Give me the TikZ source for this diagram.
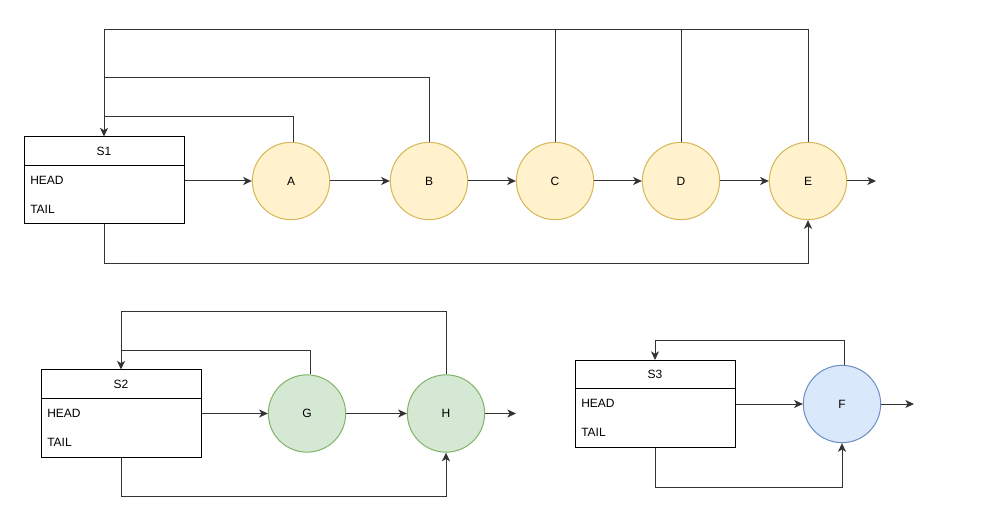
\documentclass[tikz,border=0pt]{standalone}
\usepackage{fontspec}
\setmainfont{Liberation Sans}
\usetikzlibrary{arrows.meta}
\definecolor{yfill}{HTML}{FFF2CC}\definecolor{ydraw}{HTML}{D6B656}
\definecolor{gfill}{HTML}{D5E8D4}\definecolor{gdraw}{HTML}{82B366}
\definecolor{bfill}{HTML}{DAE8FC}\definecolor{bdraw}{HTML}{6C8EBF}
\definecolor{linec}{HTML}{333333}
\begin{document}
\begin{tikzpicture}[x=0.75pt,y=-0.75pt,
  every node/.style={font=\fontsize{9pt}{11pt}\selectfont},
  box/.style={draw=black, line width=0.75pt, minimum width=120pt, minimum height=65.25pt, inner sep=0pt},
  circ/.style={circle, line width=0.75pt, minimum size=58pt, inner sep=0pt},
  yc/.style={circ, fill=yfill, draw=ydraw},
  gc/.style={circ, fill=gfill, draw=gdraw},
  bc/.style={circ, fill=bfill, draw=bdraw},
  conn/.style={draw=linec, line width=0.75pt},
  arr/.style={conn, -{Stealth[length=6.5pt,width=6pt,inset=1.8pt]}},
  lbl/.style={anchor=west, inner sep=0pt}
]
\useasboundingbox (0,0) rectangle (1000,527);

% ---------- S1 group ----------
\node[box] (S1) at (104,180.5) {};
\draw[line width=0.75pt] ([yshift=-21.75pt]S1.north west) -- ([yshift=-21.75pt]S1.north east);
\node (S1t) at (104,151) {S1};
\node[lbl] (S1h) at (30,180) {HEAD};
\node[lbl] (S1l) at (30,209) {TAIL};

\node[yc] (A) at (291,181) {A};
\node[yc] (B) at (429,181) {B};
\node[yc] (C) at (555,181) {C};
\node[yc] (D) at (681,181) {D};
\node[yc] (E) at (808,181) {E};
\coordinate (Eout) at (876,181);

\draw[arr] (S1.east |- A.west) -- (A.west);
\draw[arr] (A) -- (B);
\draw[arr] (B) -- (C);
\draw[arr] (C) -- (D);
\draw[arr] (D) -- (E);
\draw[arr] (E.east) -- (Eout);

\coordinate (top1) at (104,30);
\coordinate (top2) at (104,78);
\coordinate (top3) at (104,117);
\draw[conn] (E.north) |- (top1);
\draw[conn] (D.north) -- (D.north |- top1);
\draw[conn] (C.north) -- (C.north |- top1);
\draw[conn] (B.north) |- (top2);
\draw[conn] ([xshift=1.5pt]A.north) |- (top3);
\draw[arr] (top1) -- (S1.north);
\draw[arr] (S1.south) -- ++(0,39) -| (E.south);

% ---------- S2 group ----------
\node[box] (S2) at (121,413.5) {};
\draw[line width=0.75pt] ([yshift=-21.75pt]S2.north west) -- ([yshift=-21.75pt]S2.north east);
\node (S2t) at (121,384) {S2};
\node[lbl] (S2h) at (47,413) {HEAD};
\node[lbl] (S2l) at (47,442) {TAIL};

\node[gc] (G) at (307,413.5) {G};
\node[gc] (H) at (446,413.5) {H};
\coordinate (Hout) at (516,413.5);

\draw[arr] (S2.east |- G.west) -- (G.west);
\draw[arr] (G) -- (H);
\draw[arr] (H.east) -- (Hout);

\coordinate (top4) at (121,312);
\coordinate (top5) at (121,351);
\draw[conn] (H.north) |- (top4);
\draw[conn] ([xshift=2.5pt]G.north) |- (top5);
\draw[arr] (top4) -- (S2.north);
\draw[arr] (S2.south) -- ++(0,39) -| (H.south);

% ---------- S3 group ----------
\node[box] (S3) at (655,404) {};
\draw[line width=0.75pt] ([yshift=-21.75pt]S3.north west) -- ([yshift=-21.75pt]S3.north east);
\node (S3t) at (655,374) {S3};
\node[lbl] (S3h) at (581,403) {HEAD};
\node[lbl] (S3l) at (581,432) {TAIL};

\node[bc] (F) at (842,404) {F};
\coordinate (Fout) at (914,404);

\draw[arr] (S3.east |- F.west) -- (F.west);
\draw[arr] (F.east) -- (Fout);

\coordinate (top6) at (655,341);
\draw[conn] ([xshift=1.5pt]F.north) |- (top6);
\draw[arr] (top6) -- (S3.north);
\draw[arr] (S3.south) -- ++(0,39) -| (F.south);
\end{tikzpicture}
\end{document}
